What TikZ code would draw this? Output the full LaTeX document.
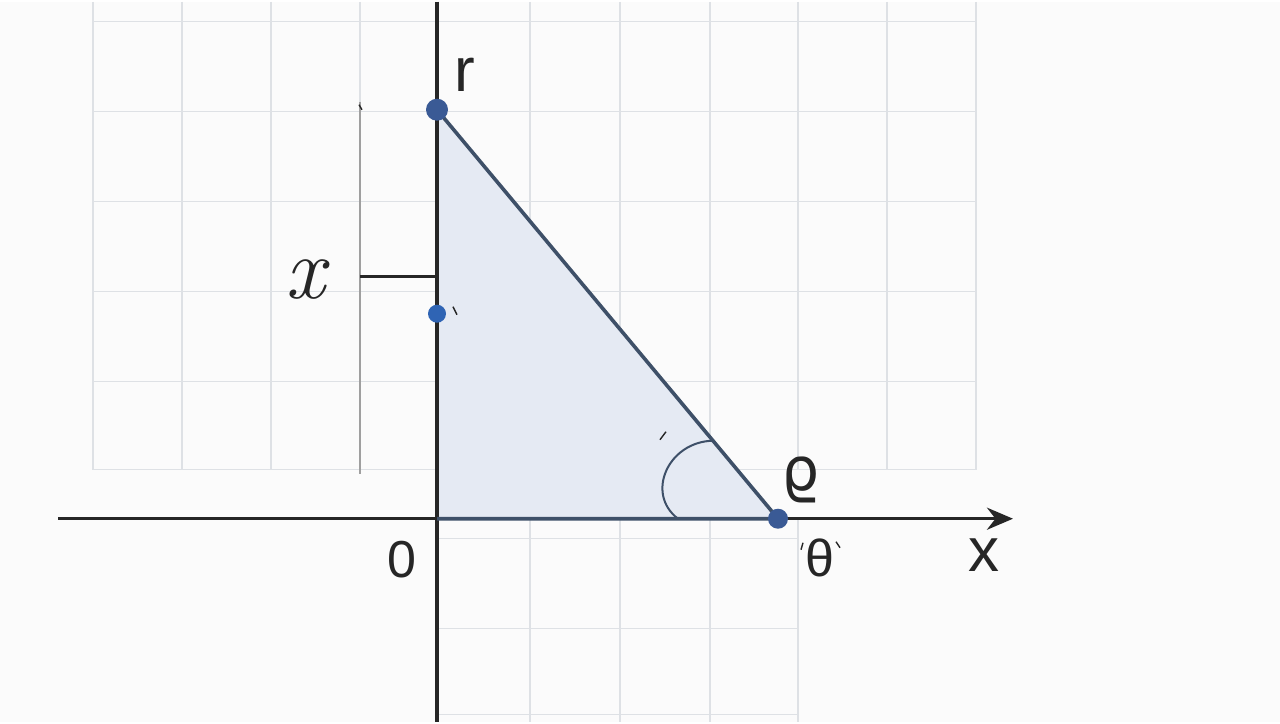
\documentclass[tikz,border=0pt]{standalone}
\usepackage{fontspec}
\setmainfont{Liberation Sans}
\newfontfamily\greekfont{DejaVu Sans}
\usetikzlibrary{positioning,arrows.meta}

\definecolor{paper}{HTML}{FBFBFB}
\definecolor{gridline}{HTML}{DEE1E5}
\definecolor{axisdark}{HTML}{262626}
\definecolor{edgeblue}{HTML}{3E5068}
\definecolor{dotblue}{HTML}{3A5A95}
\definecolor{midblue}{HTML}{2F64B4}
\definecolor{trifill}{HTML}{E5EAF3}

\begin{document}
\begin{tikzpicture}[x=0.5pt,y=-0.5pt,
    grid/.style={gridline,line width=0.6pt},
    axis/.style={axisdark,line width=1.7pt},
    edge/.style={edgeblue,line width=1.8pt},
    dim/.style={gray!75,line width=0.6pt},
    speck/.style={axisdark,line width=0.7pt},
    lbl/.style={font=\fontsize{31}{31}\selectfont,text=axisdark,inner sep=0},
    num/.style={font=\fontsize{26}{26}\selectfont,text=axisdark,inner sep=0},
    bigdot/.style={circle,fill=dotblue,inner sep=0,minimum size=11pt},
    smalldot/.style={circle,fill=midblue,inner sep=0,minimum size=9pt}
]

% page
\fill[paper] (0,0) rectangle (1280,720);

% grid
\foreach \gx in {93,182,271,360,530,620,710,798,887,976}{
  \draw[grid] (\gx,0) -- (\gx,468);
}
\foreach \gy in {20,110,200,290,380,468}{
  \draw[grid] (93,\gy) -- (976,\gy);
}
\foreach \gx in {530,620,710,798}{
  \draw[grid] (\gx,517) -- (\gx,720);
}
\foreach \gy in {537,627,713}{
  \draw[grid] (437,\gy) -- (798,\gy);
}

% triangle corners
\coordinate (O) at (437,517);
\coordinate (R) at (437,108);
\coordinate (P) at (778,517);
\coordinate (A) at (713,439);
\coordinate (B) at (678,517);

\fill[trifill] (O) -- (R) -- (P) -- cycle;

% axes
\coordinate (xl) at (58,517);
\coordinate (xr) at (1013,517);
\coordinate (yt) at (437,0);
\coordinate (yb) at (437,720);
\draw[axis,-{Stealth[length=13pt,width=11pt]}] (xl) -- (xr);
\draw[axis] (yt) -- (yb);

\draw[edge] (R) -- (P) -- (O);

% angle
\draw[edgeblue,line width=1pt] (B) .. controls (645,492) and (668,440) .. (A);

% dimension
\coordinate (dt) at (360,100);
\coordinate (db) at (360,472);
\coordinate (tk) at (437,275);
\draw[dim] (dt) -- (db);
\draw[axis,line width=1.4pt] (tk -| dt) -- (tk);

% points
\node[bigdot] (rdot) at (R) {};
\node[bigdot,minimum size=10pt] (pdot) at (P) {};
\node[smalldot] (mdot) at (437,312) {};

% labels
\node[lbl] (rlab) at (465,73) {r};
\node[num] (zero) at (402,558) {0};
\node[lbl] (xlab) at (984,553) {x};
\node[num] (theta) at (820,556) {θ};
\node[font=\greekfont\fontsize{30}{30}\selectfont,text=axisdark,inner sep=0] (rho) at (801,478) {ϱ};
\node[font=\fontfamily{lmr}\fontsize{44}{44}\selectfont\itshape,text=axisdark,inner sep=0] (xdim) at (305,278) {x};

% specks
\draw[speck] (660,438) -- (666,430);
\draw[speck] (453,305) -- (457,313);
\draw[speck] (801,548) -- (803,541);
\draw[speck] (359,103) -- (362,108);
\draw[speck] (836,540) -- (840,546);

\end{tikzpicture}
\end{document}
